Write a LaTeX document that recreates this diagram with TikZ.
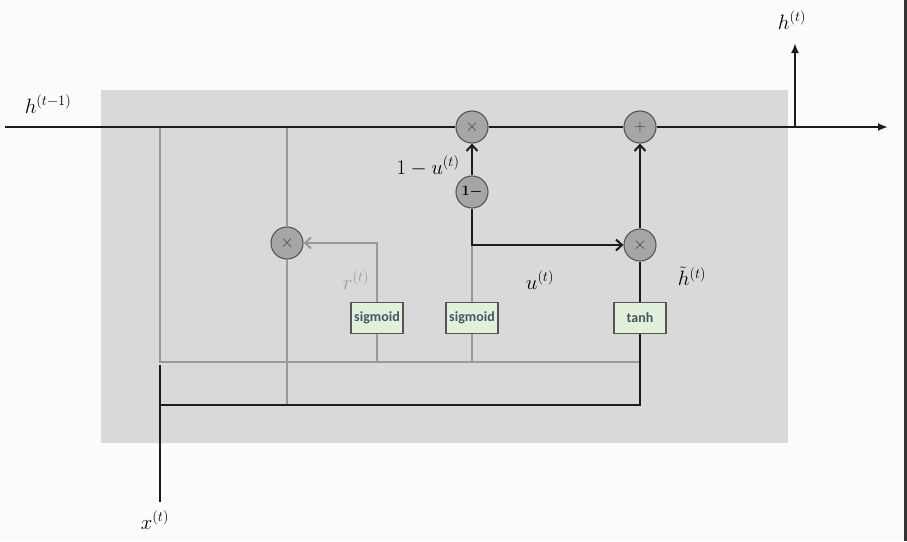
\documentclass[tikz,border=0pt]{standalone}
\usepackage{fontspec}
\newfontfamily\boxfont{Carlito}
\usetikzlibrary{arrows.meta}
\definecolor{bgpage}{HTML}{FBFBFB}
\definecolor{cellbg}{HTML}{D9D9D9}
\definecolor{blk}{HTML}{1C1C1C}
\definecolor{gry}{HTML}{999999}
\definecolor{opfill}{HTML}{A6A6A6}
\definecolor{opline}{HTML}{555555}
\definecolor{boxfill}{HTML}{E2F0D9}
\definecolor{boxtext}{HTML}{44546A}
\tikzset{
  blkline/.style={draw=blk, line width=2.5pt},
  gryline/.style={draw=gry, line width=1.9pt},
  barb/.style={-{Straight Barb[length=6pt,width=11pt,line width=2pt]}},
  op/.style={circle, minimum size=32pt, inner sep=0pt, fill=opfill, draw=opline, line width=1.1pt, text=black!75, font=\fontsize{16}{16}\selectfont},
  actbox/.style={rectangle, minimum width=52pt, minimum height=31pt, inner sep=0pt, fill=boxfill, draw=opline, line width=1.2pt, text=boxtext, font=\boxfont\bfseries\fontsize{14}{14}\selectfont},
  lbl/.style={font=\fontsize{21}{25}\selectfont, inner sep=0pt}
}
\begin{document}
\begin{tikzpicture}[x=1pt,y=-1pt]
\useasboundingbox (0,0) rectangle (907,541);
\fill[bgpage] (0,0) rectangle (907,541);
\fill[black!80] (904,0) rectangle (907,541);
\fill[cellbg] (101,90) rectangle (788,443);

% operators
\node[op] (m1) at (287,243) {$\times$};
\node[op] (m2) at (472,127) {$\times$};
\node[op] (add) at (640,127) {$+$};
\node[op, text=black, font=\fontsize{14}{14}\selectfont\boldmath] (om) at (472,192) {$1-$};
\node[op] (m3) at (640,245) {$\times$};
% activation boxes
\node[actbox] (sr) at (377,318) {sigmoid};
\node[actbox] (su) at (472,318) {sigmoid};
\node[actbox] (th) at (640,318) {tanh};

% coordinates
\coordinate (hin) at (5,127);
\coordinate (hout) at (888,127);
\coordinate (split) at (795,127);
\coordinate (hup) at (795,43);
\coordinate (ga) at (160,127);
\coordinate (gb) at (160,362);
\coordinate (gc) at (640,362);
\coordinate (gd) at (287,127);
\coordinate (ge) at (287,405);
\coordinate (gf) at (377,362);
\coordinate (gg) at (472,362);
\coordinate (gh) at (472,245);
\coordinate (bk1) at (640,405);
\coordinate (bk2) at (160,405);
\coordinate (bk3) at (160,365);
\coordinate (xin) at (160,502);

% gray connectors
\draw[gryline] (ga) -- (gb) -- (gc);
\draw[gryline] (gd) -- (m1);
\draw[gryline] (m1) -- (ge);
\draw[gryline] (sr.south) -- (gf);
\draw[gryline, barb] (sr.north) |- (m1);
\draw[gryline] (su.south) -- (gg);
\draw[gryline] (su.north) -- (gh);

% black connectors
\draw[blkline] (hin) -- (m2);
\draw[blkline] (m2) -- (add);
\draw[blkline, -{Latex[length=10pt,width=8pt]}] (add) -- (hout);
\draw[blkline, -{Latex[length=10pt,width=8pt]}] (split) -- (hup);
\draw[blkline, barb] (om) -- (m2);
\draw[blkline, barb] (om) -- (gh) -- (m3);
\draw[blkline] (th) -- (m3);
\draw[blkline, barb] (m3) -- (add);
\draw[blkline] (th.south) -- (bk1) -- (bk2);
\draw[blkline] (bk3) -- (xin);

% labels
\node[lbl] (lhprev) at (48,104) {$h^{(t-1)}$};
\node[lbl] (lhnext) at (792,20) {$h^{(t)}$};
\node[lbl] (lomu) at (428,166) {$1-u^{(t)}$};
\node[lbl, text=gry] (lr) at (356,280) {$r^{(t)}$};
\node[lbl] (lu) at (540,280) {$u^{(t)}$};
\node[lbl] (lht) at (692,276) {$\tilde{h}^{(t)}$};
\node[lbl] (lx) at (155,520) {$x^{(t)}$};
\end{tikzpicture}
\end{document}
